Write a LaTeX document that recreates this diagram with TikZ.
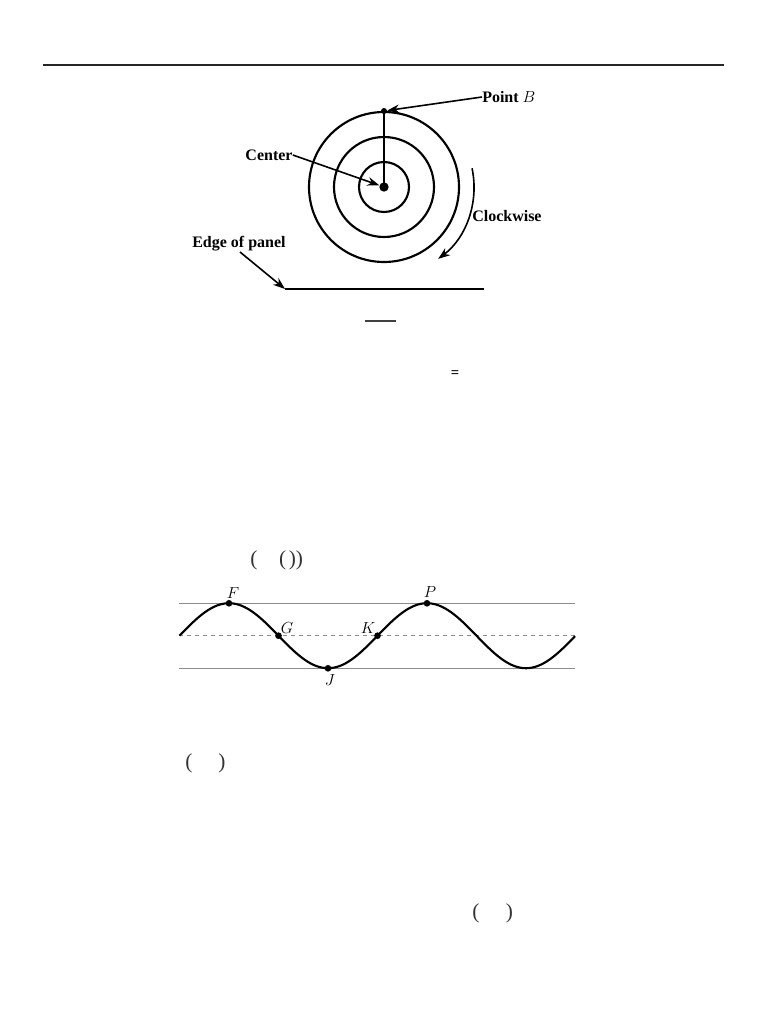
\documentclass[tikz,border=0pt]{standalone}
\usepackage{fontspec}
\setmainfont{Liberation Serif}
\usetikzlibrary{arrows.meta}
\begin{document}
\begin{tikzpicture}[x=0.75pt,y=-0.75pt,
  lbl/.style={font=\fontsize{12}{14}\selectfont\bfseries, inner sep=0pt},
  ring/.style={line width=1.6pt},
  ptr/.style={line width=1.2pt, -{Stealth[length=9pt,width=6.5pt]}},
  dot/.style={circle, fill, inner sep=0pt, minimum size=5pt},
  guide/.style={line width=1pt, black!45},
  wave/.style={line width=1.6pt},
  wlbl/.style={font=\fontsize{11.5}{12}\selectfont, inner sep=0pt},
  paren/.style={font=\fontsize{16}{18}\selectfont, inner sep=0pt, text=black!80}]
\useasboundingbox (0,0) rectangle (768,1024);
% top rule
\coordinate (r1) at (43,65);
\coordinate (r2) at (724,65);
\draw[line width=1.5pt, black!85] (r1) -- (r2);

% ---- rotating disc figure ----
\coordinate (O) at (384,187);
\draw[ring] (O) circle[radius=75];
\draw[ring] (O) circle[radius=50];
\draw[ring] (O) circle[radius=25];
\node[dot, minimum size=4.5pt] (B) at (384,111) {};
\node[dot, minimum size=7pt] (Oc) at (O) {};
\draw[ring] (Oc.center) -- (B.center);

\node[lbl, anchor=west] (pB) at (482,97) {Point {\fontsize{12.5}{14}\selectfont$B$}};
\draw[ptr] (pB.west) -- (B);

\node[lbl] (cl) at (269,155) {Center};
\draw[ptr] (cl.east) -- (Oc);

\draw[ptr] ([shift={(-12:90)}]O) arc[start angle=-12, end angle=53, radius=90];
\node[lbl, anchor=west] (cw) at (472,216) {Clockwise};

\node[lbl, anchor=west] (ep) at (192,244) {Edge of panel};
\coordinate (ept) at (240,252);
\coordinate (e1) at (285,289);
\coordinate (e2) at (484,289);
\draw[ring] (e1) -- (e2);
\draw[ptr] (ept) -- (e1);

% ---- stray marks ----
\coordinate (f1) at (365,321);
\coordinate (f2) at (396,321);
\draw[line width=1.2pt, black!75] (f1) -- (f2);
\node[font=\fontsize{11}{12}\selectfont\bfseries, inner sep=0pt] (eq) at (455,374) {=};

\node[paren] (p1) at (254,560) {(};
\node[paren] (p2) at (291,560) {(\kern2pt))};
\node[paren] (p3) at (189,763) {(};
\node[paren] (p4) at (222,763) {)};
\node[paren] (p5) at (476,913) {(};
\node[paren] (p6) at (509.5,913) {)};

% ---- wave figure ----
\coordinate (t1) at (179,603.3);
\coordinate (t2) at (575,603.3);
\coordinate (m1) at (179,635.7);
\coordinate (m2) at (575,635.7);
\coordinate (b1) at (179,668.3);
\coordinate (b2) at (575,668.3);
\draw[guide] (t1) -- (t2);
\draw[guide] (b1) -- (b2);
\draw[guide, dashed] (m1) -- (m2);
\draw[wave] plot[domain=179.5:575, samples=200, smooth] (\x, {635.7 - 32.5*sin((\x-179.5)/198*360)});

\node[dot] (F) at (229,603.3) {};
\node[dot] (G) at (278.5,635.7) {};
\node[dot] (J) at (328,668.3) {};
\node[dot] (K) at (377.5,635.7) {};
\node[dot] (P) at (427,603.3) {};
\node[wlbl] (Fl) at (233,593) {$F$};
\node[wlbl] (Gl) at (287,628) {$G$};
\node[wlbl] (Kl) at (368,628) {$K$};
\node[wlbl] (Pl) at (430,592) {$P$};
\node[wlbl] (Jl) at (330,680) {$J$};
\end{tikzpicture}
\end{document}
